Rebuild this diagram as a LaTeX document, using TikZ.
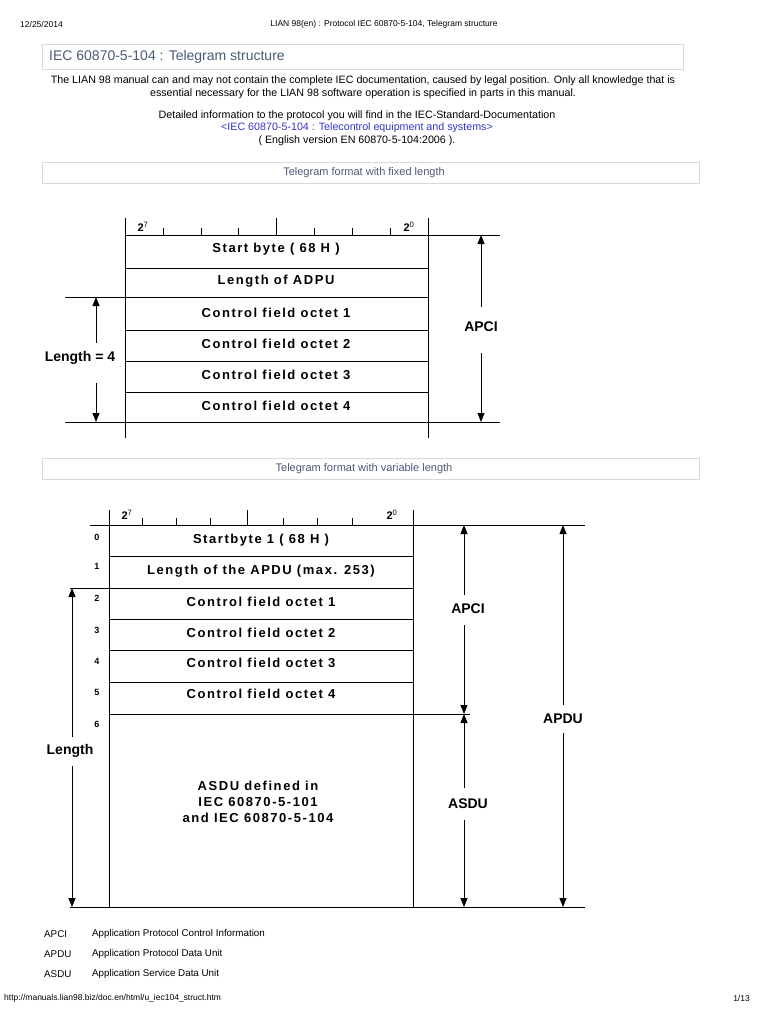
\documentclass[tikz,border=0pt]{standalone}
\usepackage{fontspec}
\setmainfont{Liberation Sans}
\newfontfamily\diagf[LetterSpace=12]{Liberation Sans}
\usetikzlibrary{arrows.meta}
\definecolor{ttl}{HTML}{4A5A78}
\definecolor{boxc}{HTML}{DADADA}
\definecolor{lnk}{HTML}{3333CC}
\tikzset{
 ln/.style={line width=0.8pt},
 arr/.style={line width=0.8pt,-{Triangle[length=9pt,width=7pt]}},
 cell/.style={font=\diagf\bfseries\fontsize{13}{15}\selectfont,inner sep=0pt},
 lab/.style={font=\bfseries\fontsize{14}{16}\selectfont,inner sep=0pt},
 num/.style={font=\bfseries\fontsize{9}{10}\selectfont,inner sep=0pt},
 hdr/.style={font=\fontsize{8.5}{10}\selectfont,inner sep=0pt},
 leg/.style={font=\fontsize{9.8}{11}\selectfont,inner sep=0pt},
 body/.style={font=\fontsize{10.7}{12.5}\selectfont,inner sep=0pt,align=center},
 sub/.style={font=\fontsize{11}{12}\selectfont,inner sep=0pt,text=ttl},
 sbox/.style={draw=boxc,line width=0.8pt},
}
\begin{document}
\begin{tikzpicture}[x=1pt,y=-1pt]
\useasboundingbox (0,0) rectangle (768,1024);
% header/footer
\node[hdr,anchor=west] (date) at (20,24) {12/25/2014};
\node[hdr] (ptitle) at (384,24) {LIAN 98(en) : Protocol IEC 60870-5-104, Telegram structure};
\node[hdr,anchor=west] (url) at (4,998) {http://manuals.lian98.biz/doc.en/html/u\_iec104\_struct.htm};
\node[hdr,anchor=east] (pg) at (750,998) {1/13};
% title box
\draw[sbox] (42,44) rectangle (683,69);
\node[anchor=west,inner sep=0pt,text=ttl,font=\fontsize{14}{16}\selectfont] (title) at (49,56.5) {IEC 60870-5-104 : Telegram structure};
\node[body] (intro) at (363,87) {The LIAN 98 manual can and may not contain the complete IEC documentation, caused by legal position. Only all knowledge that is\\essential necessary for the LIAN 98 software operation is specified in parts in this manual.};
\node[body] (info) at (357,128) {Detailed information to the protocol you will find in the IEC-Standard-Documentation\\\textcolor{lnk}{<}\textcolor{lnk}{IEC 60870-5-104 : Telecontrol equipment and systems}\textcolor{lnk}{>}\\( English version EN 60870-5-104:2006 ).};
\draw[sbox] (42,162) rectangle (699,183);
\node[sub] (fix) at (364,172.5) {Telegram format with fixed length};
\draw[sbox] (42,458) rectangle (699,479);
\node[sub] (var) at (364,468.5) {Telegram format with variable length};

% ===== diagram 1 =====
\coordinate (a1) at (125,218); \coordinate (a2) at (125,438);
\coordinate (b1) at (428,218); \coordinate (b2) at (428,438);
\draw[ln] (a1) -- (a2); \draw[ln] (b1) -- (b2);
\draw[ln] (125,235) -- (500,235);
\foreach \x in {163,201,238,314,352,390} \draw[ln] (\x,228) -- (\x,235);
\draw[ln] (276,218) -- (276,235);
\node[num,font=\bfseries\fontsize{11}{12}\selectfont] (p7) at (143,227) {2$^{\mathrm{7}}$};
\node[num,font=\bfseries\fontsize{11}{12}\selectfont] (p0) at (409,227) {2$^{\mathrm{0}}$};
\draw[ln] (125,268) -- (428,268);
\draw[ln] (65,297) -- (428,297);
\draw[ln] (125,330) -- (428,330);
\draw[ln] (125,361) -- (428,361);
\draw[ln] (125,392) -- (428,392);
\draw[ln] (65,422) -- (500,422);
\node[cell] (r1) at (276,249) {Start byte ( 68 H )};
\node[cell] (r2) at (276,281) {Length of ADPU};
\node[cell] (r3) at (276,313) {Control field octet 1};
\node[cell] (r4) at (276,344) {Control field octet 2};
\node[cell] (r5) at (276,375) {Control field octet 3};
\node[cell] (r6) at (276,406) {Control field octet 4};
\node[lab] (len4) at (80,358) {Length = 4};
\coordinate (l1t) at (96,297); \coordinate (l1b) at (96,422);
\draw[arr] (96,343) -- (l1t); \draw[arr] (96,383) -- (l1b);
\node[lab] (apci1) at (481,327) {APCI};
\coordinate (c1t) at (481,235); \coordinate (c1b) at (481,422);
\draw[arr] (481,307) -- (c1t); \draw[arr] (481,353) -- (c1b);

% ===== diagram 2 =====
\draw[ln] (109,510) -- (109,907); \draw[ln] (413,510) -- (413,907);
\draw[ln] (90,525) -- (585,525);
\foreach \x in {142,176,210,283,317,352} \draw[ln] (\x,518) -- (\x,525);
\draw[ln] (247,510) -- (247,525);
\node[num,font=\bfseries\fontsize{11}{12}\selectfont] (q7) at (127,515) {2$^{\mathrm{7}}$};
\node[num,font=\bfseries\fontsize{11}{12}\selectfont] (q0) at (392,515) {2$^{\mathrm{0}}$};
\draw[ln] (109,556) -- (413,556);
\draw[ln] (70,588) -- (413,588);
\draw[ln] (109,619) -- (413,619);
\draw[ln] (109,650) -- (413,650);
\draw[ln] (109,682) -- (413,682);
\draw[ln] (109,714) -- (470,714);
\draw[ln] (70,907) -- (585,907);
\foreach \n/\y in {0/537,1/566,2/598,3/630,4/661,5/692,6/724} \node[num] (n\n) at (97,\y) {\n};
\node[cell] (s1) at (261,540) {Startbyte 1  ( 68 H )};
\node[cell] (s2) at (261,571) {Length of the APDU (max. 253)};
\node[cell] (s3) at (261,602) {Control field octet 1};
\node[cell] (s4) at (261,633) {Control field octet 2};
\node[cell] (s5) at (261,663) {Control field octet 3};
\node[cell] (s6) at (261,694) {Control field octet 4};
\node[cell,align=center,font=\diagf\bfseries\fontsize{13}{16}\selectfont] (asdut) at (258,802) {ASDU defined in\\IEC 60870-5-101\\and IEC 60870-5-104};
\node[lab] (apci2) at (468,609) {APCI};
\draw[arr] (464,595) -- (464,525); \draw[arr] (464,625) -- (464,714);
\node[lab] (asdu2) at (468,804) {ASDU};
\draw[arr] (464,788) -- (464,714); \draw[arr] (464,820) -- (464,907);
\node[lab] (apdu2) at (563,719) {APDU};
\draw[arr] (563,705) -- (563,525); \draw[arr] (563,733) -- (563,907);
\node[lab] (len) at (70,751) {Length};
\draw[arr] (72,737) -- (72,588); \draw[arr] (72,766) -- (72,907);

% legend
\foreach \a/\d/\y in {APCI/Application Protocol Control Information/934,APDU/Application Protocol Data Unit/954,ASDU/Application Service Data Unit/974}{
 \node[leg,anchor=west] (k\a) at (44,\y) {\a};
 \node[leg,anchor=west] (d\a) at (92,\y) {\d};
}
\end{tikzpicture}
\end{document}
